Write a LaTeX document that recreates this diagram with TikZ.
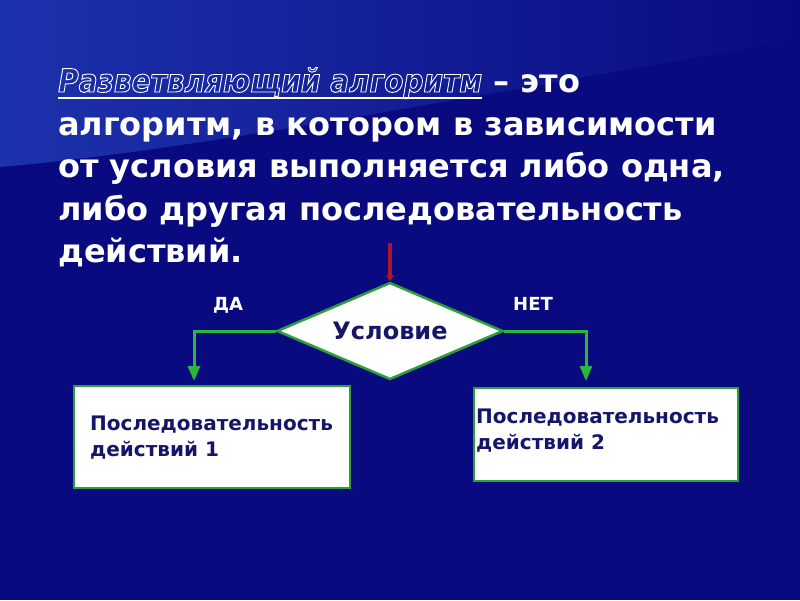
\documentclass[tikz,border=0pt]{standalone}
\usepackage{fontspec}
\setmainfont{DejaVu Sans}
\newfontfamily\titlefont{DejaVu Sans}
\newfontfamily\titleitfont{DejaVu Sans}[FakeStretch=0.875]
\newfontfamily\boxfont{DejaVu Sans}
\usetikzlibrary{shapes.geometric,arrows.meta,calc}
\definecolor{bgnavy}{RGB}{10,10,128}
\definecolor{bglight}{RGB}{28,50,172}
\definecolor{flowgreen}{RGB}{46,160,58}
\definecolor{arrowgreen}{RGB}{40,185,60}
\definecolor{txtnavy}{RGB}{22,22,105}
\definecolor{arrowred}{RGB}{175,20,45}
\tikzset{
  title/.style={anchor=base west,inner sep=0pt,text=white,font=\titlefont\bfseries\fontsize{32}{38}\selectfont},
  flowbox/.style={draw=flowgreen,line width=2.5pt,fill=white,inner sep=0pt},
  boxtext/.style={anchor=base west,inner sep=0pt,text=txtnavy,font=\boxfont\bfseries\fontsize{20}{24}\selectfont},
  yesno/.style={anchor=base,inner sep=0pt,text=white,font=\boxfont\bfseries\fontsize{18}{20}\selectfont},
  greenarrow/.style={draw=arrowgreen,line width=3pt,-{Triangle[length=15pt,width=12pt]}},
  redarrow/.style={draw=arrowred,line width=3.5pt,-{Triangle[length=6pt,width=8pt]}}
}
\begin{document}
\begin{tikzpicture}[x=1pt,y=-1pt]
\useasboundingbox (0,0) rectangle (800,600);
\fill[bgnavy] (0,0) rectangle (800,600);
\shade[left color=bglight,right color=bgnavy] (0,0) -- (800,0) -- (800,40) .. controls (500,90) and (200,150) .. (0,167) -- cycle;
% title text
\node[title,font=\titleitfont\bfseries\itshape\fontsize{32}{38}\selectfont] (t1) at (58,92) {\special{pdf:literal direct 1 Tr 1 1 1 RG 0.9 w}Разветвляющий алгоритм\special{pdf:literal direct 0 Tr}};
\draw[white,line width=2pt] ($(t1.base west)+(0,6)$) -- ($(t1.base east)+(0,6)$);
\node[title] (t1b) at (t1.base east) {\ – это};
\node[title] (t2) at (58,135) {алгоритм, в котором в зависимости};
\node[title] (t3) at (58,177) {от условия выполняется либо одна,};
\node[title] (t4) at (58,220) {либо другая последовательность};
\node[title] (t5) at (58,262) {действий.};
% diagram
\node[diamond,draw=flowgreen,line width=2.5pt,fill=white,inner sep=0pt,aspect=2.33,minimum width=226pt,minimum height=97pt,text=txtnavy,font=\boxfont\bfseries\fontsize{24}{28}\selectfont] (dia) at (390,331) {Условие};
\coordinate (in) at (390,243);
\draw[redarrow] (in) -- (dia.north);
\node[flowbox,minimum width=276pt,minimum height=102pt] (box1) at (212,437) {};
\node[flowbox,minimum width=264pt,minimum height=93pt] (box2) at (606,434.5) {};
\coordinate (e1) at (194,381);
\coordinate (e2) at (586,381);
\draw[greenarrow] (dia.west) -| (e1);
\draw[greenarrow] (dia.east) -| (e2);
\node[yesno] (yes) at (228,310) {ДА};
\node[yesno] (no) at (533,310) {НЕТ};
\node[boxtext] (b1a) at (90,430) {Последовательность};
\node[boxtext] (b1b) at (90,456) {действий 1};
\node[boxtext] (b2a) at (476,423) {Последовательность};
\node[boxtext] (b2b) at (476,449) {действий 2};
\end{tikzpicture}
\end{document}
